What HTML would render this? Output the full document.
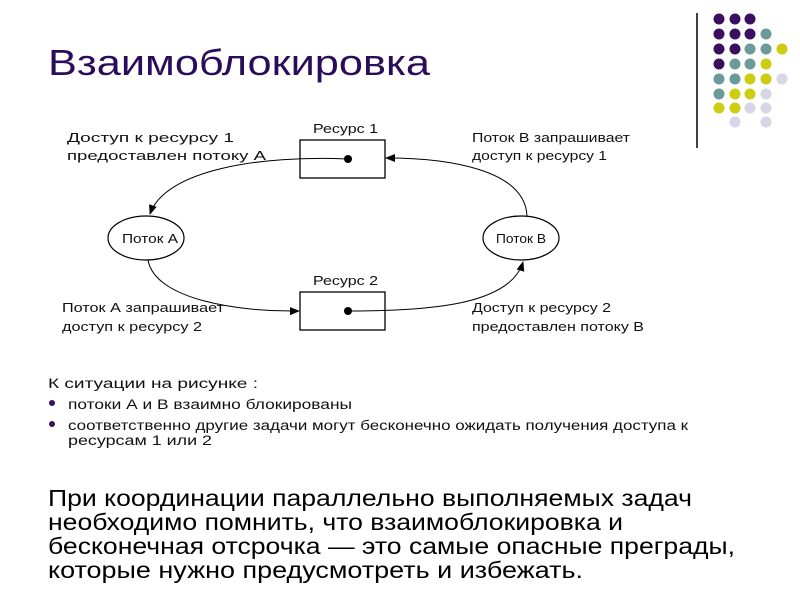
<!DOCTYPE html>
<html><head><meta charset="utf-8"><style>
html,body{margin:0;padding:0;background:#fff;width:800px;height:600px;overflow:hidden}
svg{display:block}
text{font-family:"Liberation Sans","DejaVu Sans",sans-serif}
</style></head><body>
<svg width="800" height="600" viewBox="0 0 800 600" xmlns="http://www.w3.org/2000/svg">
<defs><marker id="ar" markerWidth="10" markerHeight="8" refX="9" refY="4" orient="auto" markerUnits="userSpaceOnUse"><path d="M0,0 L10,4 L0,8 Z" fill="#000"/></marker></defs>
<line x1="697" y1="13" x2="697" y2="148" stroke="#000" stroke-width="1.5"/>
<g>
<circle cx="719" cy="19" r="5.5" fill="#3a0f60"/><circle cx="735" cy="19" r="5.5" fill="#3a0f60"/><circle cx="750" cy="19" r="5.5" fill="#3a0f60"/>
<circle cx="719" cy="34" r="5.5" fill="#3a0f60"/><circle cx="735" cy="34" r="5.5" fill="#3a0f60"/><circle cx="750" cy="34" r="5.5" fill="#3a0f60"/><circle cx="766" cy="34" r="5.5" fill="#6a9a9a"/>
<circle cx="719" cy="49" r="5.5" fill="#3a0f60"/><circle cx="735" cy="49" r="5.5" fill="#3a0f60"/><circle cx="750" cy="49" r="5.5" fill="#6a9a9a"/><circle cx="766" cy="49" r="5.5" fill="#6a9a9a"/><circle cx="782" cy="49" r="5.5" fill="#cccc10"/>
<circle cx="719" cy="64" r="5.5" fill="#3a0f60"/><circle cx="735" cy="64" r="5.5" fill="#6a9a9a"/><circle cx="750" cy="64" r="5.5" fill="#6a9a9a"/><circle cx="766" cy="64" r="5.5" fill="#cccc10"/>
<circle cx="719" cy="79" r="5.5" fill="#6a9a9a"/><circle cx="735" cy="79" r="5.5" fill="#6a9a9a"/><circle cx="750" cy="79" r="5.5" fill="#cccc10"/><circle cx="766" cy="79" r="5.5" fill="#cccc10"/><circle cx="782" cy="79" r="5.5" fill="#d6d6e6"/>
<circle cx="719" cy="94" r="5.5" fill="#6a9a9a"/><circle cx="735" cy="94" r="5.5" fill="#cccc10"/><circle cx="750" cy="94" r="5.5" fill="#cccc10"/><circle cx="766" cy="94" r="5.5" fill="#d6d6e6"/>
<circle cx="719" cy="108" r="5.5" fill="#cccc10"/><circle cx="735" cy="108" r="5.5" fill="#cccc10"/><circle cx="750" cy="108" r="5.5" fill="#d6d6e6"/><circle cx="766" cy="108" r="5.5" fill="#d6d6e6"/>
<circle cx="735" cy="122" r="5.5" fill="#d6d6e6"/><circle cx="766" cy="122" r="5.5" fill="#d6d6e6"/>
</g>
<text x="48" y="75" font-size="36" fill="#2a0c5a" textLength="382" lengthAdjust="spacingAndGlyphs">Взаимоблокировка</text>

<g font-size="12.5" fill="#111">
<rect x="300" y="140" width="85" height="38" fill="#fff" stroke="#000" stroke-width="1.3"/>
<rect x="300" y="292" width="85" height="38" fill="#fff" stroke="#000" stroke-width="1.3"/>
<ellipse cx="146" cy="238" rx="38" ry="22" fill="#fff" stroke="#000" stroke-width="1.2"/>
<ellipse cx="521" cy="238" rx="38" ry="22" fill="#fff" stroke="#000" stroke-width="1.2"/>
<circle cx="348" cy="159" r="4" fill="#000"/>
<circle cx="348" cy="311" r="4" fill="#000"/>
<path d="M348,159 C260,155 165,170 150,214" fill="none" stroke="#000" stroke-width="1" marker-end="url(#ar)"/>
<path d="M148,260 C155,300 240,312 299,311" fill="none" stroke="#000" stroke-width="1" marker-end="url(#ar)"/>
<path d="M348,311 C430,311 510,305 523,262" fill="none" stroke="#000" stroke-width="1" marker-end="url(#ar)"/>
<path d="M527,216 C525,170 450,158 386,158" fill="none" stroke="#000" stroke-width="1" marker-end="url(#ar)"/>
<text x="313" y="133" textLength="65" lengthAdjust="spacingAndGlyphs">Ресурс 1</text>
<text x="313" y="285" textLength="65" lengthAdjust="spacingAndGlyphs">Ресурс 2</text>
<text x="122" y="243" textLength="56" lengthAdjust="spacingAndGlyphs">Поток А</text>
<text x="496" y="243" textLength="50" lengthAdjust="spacingAndGlyphs">Поток В</text>
<text x="67" y="142" textLength="167" lengthAdjust="spacingAndGlyphs">Доступ к ресурсу 1</text>
<text x="67" y="160" textLength="199" lengthAdjust="spacingAndGlyphs">предоставлен потоку А</text>
<text x="472" y="142" textLength="158" lengthAdjust="spacingAndGlyphs">Поток В запрашивает</text>
<text x="472" y="160" textLength="135" lengthAdjust="spacingAndGlyphs">доступ к ресурсу 1</text>
<text x="62" y="312" textLength="162" lengthAdjust="spacingAndGlyphs">Поток А запрашивает</text>
<text x="62" y="331" textLength="140" lengthAdjust="spacingAndGlyphs">доступ к ресурсу 2</text>
<text x="472" y="312" textLength="139" lengthAdjust="spacingAndGlyphs">Доступ к ресурсу 2</text>
<text x="472" y="331" textLength="172" lengthAdjust="spacingAndGlyphs">предоставлен потоку В</text>
</g>

<g font-size="13.5" fill="#111">
<text x="48" y="388" textLength="210" lengthAdjust="spacingAndGlyphs">К ситуации на рисунке :</text>
<circle cx="52" cy="403" r="3" fill="#3a0f60"/>
<text x="68" y="409" textLength="284" lengthAdjust="spacingAndGlyphs">потоки А и В взаимно блокированы</text>
<circle cx="52" cy="424" r="3" fill="#3a0f60"/>
<text x="68" y="430" textLength="620" lengthAdjust="spacingAndGlyphs">соответственно другие задачи могут бесконечно ожидать получения доступа к</text>
<text x="68" y="445" textLength="144" lengthAdjust="spacingAndGlyphs">ресурсам 1 или 2</text>
</g>
<g font-size="23" fill="#000">
<text x="48" y="506" textLength="644" lengthAdjust="spacingAndGlyphs">При координации параллельно выполняемых задач</text>
<text x="48" y="530" textLength="575" lengthAdjust="spacingAndGlyphs">необходимо помнить, что взаимоблокировка и</text>
<text x="48" y="554" textLength="687" lengthAdjust="spacingAndGlyphs">бесконечная отсрочка — это самые опасные преграды,</text>
<text x="48" y="578" textLength="535" lengthAdjust="spacingAndGlyphs">которые нужно предусмотреть и избежать.</text>
</g>
</svg>
</body></html>
